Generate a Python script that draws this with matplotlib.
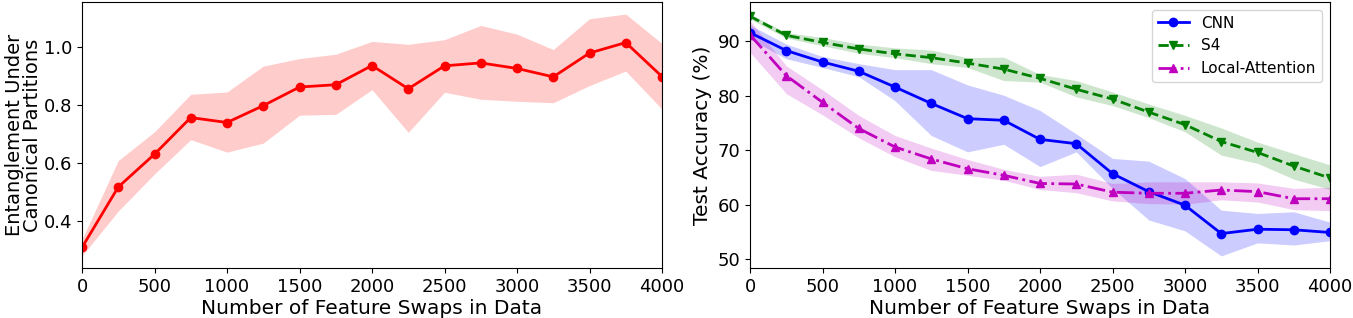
import numpy as np
import matplotlib
matplotlib.use("Agg")
import matplotlib.pyplot as plt

swaps = [0, 250, 500, 750, 1000, 1250, 1500, 1750, 2000, 2250, 2500, 2750, 3000, 3250, 3500, 3750, 4000]

# left panel: entanglement
ent_mean = [0.309, 0.517, 0.630, 0.756, 0.739, 0.797, 0.861, 0.869, 0.935, 0.855, 0.934, 0.944, 0.925, 0.896, 0.978, 1.014, 0.897]
ent_upper = [0.337, 0.608, 0.707, 0.836, 0.844, 0.933, 0.959, 0.974, 1.018, 1.008, 1.024, 1.073, 1.043, 0.990, 1.096, 1.112, 1.011]
ent_lower = [0.280, 0.434, 0.562, 0.680, 0.637, 0.668, 0.764, 0.767, 0.852, 0.705, 0.843, 0.819, 0.812, 0.807, 0.866, 0.916, 0.785]

# right panel: test accuracy
cnn_mean = [91.6, 88.3, 86.2, 84.5, 81.6, 78.6, 75.8, 75.5, 72.0, 71.2, 65.7, 62.4, 59.9, 54.7, 55.5, 55.4, 54.9]
cnn_upper = [93.0, 89.5, 87.2, 85.9, 84.8, 84.8, 82.0, 80.1, 77.3, 73.0, 68.5, 68.0, 64.8, 59.0, 58.4, 58.7, 56.8]
cnn_lower = [90.4, 86.8, 85.2, 83.5, 79.1, 72.7, 69.7, 71.1, 67.0, 69.7, 63.0, 57.2, 55.2, 50.6, 53.0, 52.6, 53.4]

s4_mean = [94.6, 91.1, 89.8, 88.6, 87.7, 87.0, 86.0, 84.9, 83.2, 81.2, 79.4, 77.0, 74.7, 71.6, 69.6, 67.1, 64.9]
s4_upper = [95.0, 91.6, 90.7, 89.5, 88.8, 88.4, 87.0, 87.1, 83.9, 82.8, 80.7, 78.5, 76.4, 74.1, 71.5, 69.4, 67.3]
s4_lower = [94.1, 90.6, 89.2, 87.8, 87.0, 85.9, 85.2, 82.8, 82.5, 79.8, 78.2, 76.0, 73.4, 69.1, 67.6, 64.7, 62.8]

la_mean = [91.2, 83.7, 78.8, 74.0, 70.6, 68.4, 66.6, 65.4, 63.9, 63.8, 62.3, 62.1, 62.1, 62.7, 62.4, 61.1, 61.1]
la_upper = [93.8, 85.5, 81.1, 76.4, 72.7, 70.4, 68.3, 66.5, 65.2, 65.6, 63.9, 64.2, 64.2, 64.2, 64.0, 63.0, 63.2]
la_lower = [88.0, 80.4, 76.5, 72.3, 68.8, 66.3, 65.4, 64.5, 62.8, 62.2, 60.7, 60.2, 60.1, 60.9, 60.5, 59.1, 58.9]

fig = plt.figure(figsize=(13.53, 3.18), dpi=100)
ax1 = fig.add_axes([82 / 1353, 50 / 318, 580 / 1353, 266 / 318])
ax2 = fig.add_axes([750 / 1353, 50 / 318, 580 / 1353, 266 / 318])

ax1.fill_between(swaps, ent_lower, ent_upper, color="r", alpha=0.2, linewidth=0)
ax1.plot(swaps, ent_mean, "r-o", linewidth=2, markersize=6)
ax1.set_ylabel("Entanglement Under\nCanonical Partitions", fontsize=14, labelpad=1, linespacing=0.95)

series = [
    ("CNN", cnn_mean, cnn_lower, cnn_upper, "b", "-", "o"),
    ("S4", s4_mean, s4_lower, s4_upper, "g", "--", "v"),
    ("Local-Attention", la_mean, la_lower, la_upper, "m", "-.", "^"),
]
for name, m, lo, hi, c, ls, mk in series:
    ax2.fill_between(swaps, lo, hi, color=c, alpha=0.2, linewidth=0)
    ax2.plot(swaps, m, color=c, linestyle=ls, marker=mk, linewidth=2, markersize=6, label=name)
ax2.set_ylabel("Test Accuracy (%)", fontsize=14.5)
ax2.set_yticks([50, 60, 70, 80, 90])
ax2.legend(loc="upper right", fontsize=11)

for ax in (ax1, ax2):
    ax.set_xlim(0, 4000)
    ax.set_xticks(np.arange(0, 4001, 500))
    ax.set_xlabel("Number of Feature Swaps in Data", fontsize=14.5, labelpad=2)
    ax.tick_params(labelsize=13)

fig.savefig("out.png", dpi=100)
